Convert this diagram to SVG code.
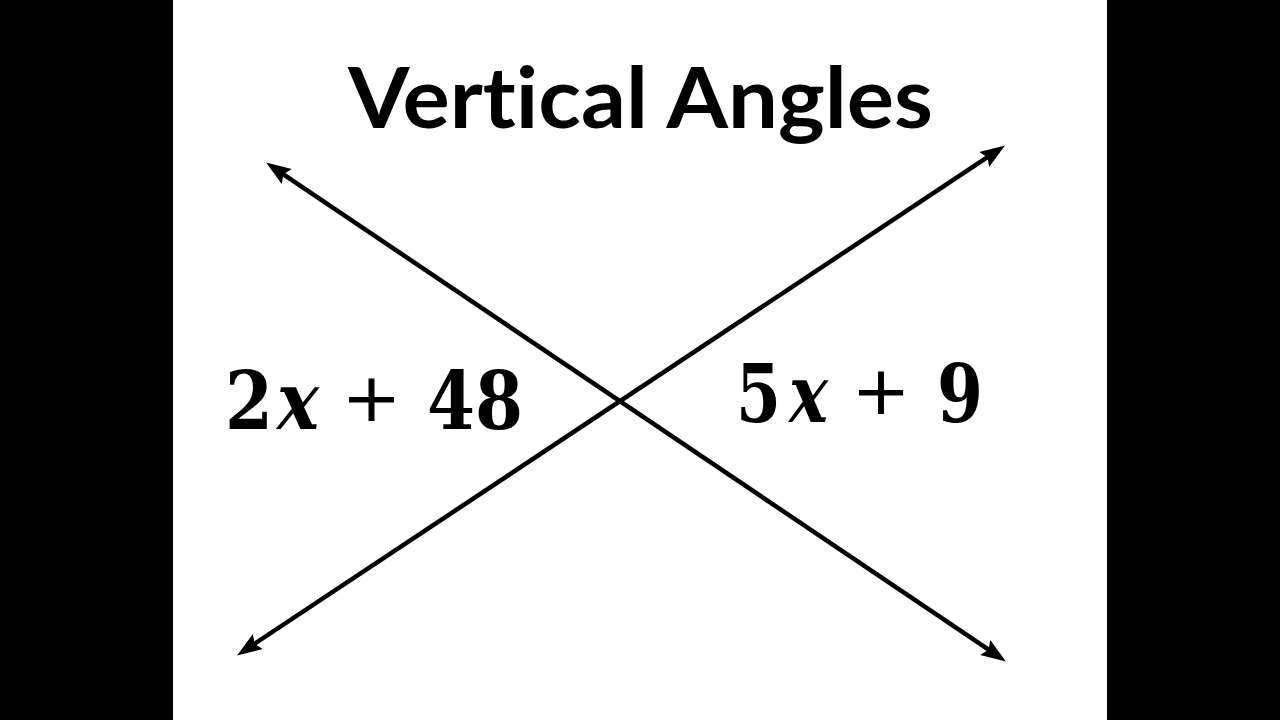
<svg xmlns="http://www.w3.org/2000/svg" width="1280" height="720" viewBox="0 0 1280 720">
<style>
.title{font-family:"Lato","Open Sans","Liberation Sans",sans-serif;font-weight:bold;font-size:84px;fill:#000;font-variant-ligatures:none;font-feature-settings:"liga" 0}
.num{font-family:"DejaVu Serif","Liberation Serif",serif;font-weight:bold;font-size:80px;fill:#000}
.var{font-family:"DejaVu Serif","Liberation Serif",serif;font-weight:bold;font-style:italic;font-size:80px;fill:#000}
.op{font-family:"Liberation Serif","DejaVu Serif",serif;font-weight:normal;font-size:88px;fill:#000;stroke:#000;stroke-width:1.2}
.ln{stroke:#000;stroke-width:4.5;fill:none;marker-start:url(#ah);marker-end:url(#ah)}
</style>
<defs>
<marker id="ah" markerUnits="userSpaceOnUse" markerWidth="26" markerHeight="20" viewBox="0 0 26 20" refX="13" refY="10" orient="auto-start-reverse">
<path d="M0,1 L25,10 L0,19 L4,10 Z" fill="#000"/>
</marker>
</defs>
<rect x="0" y="0" width="1280" height="720" fill="#000"/>
<rect x="173" y="0" width="934" height="720" fill="#fff"/>
<g id="title"><text class="title" x="348" y="128" textLength="585" lengthAdjust="spacingAndGlyphs">Vertical Angles</text></g>
<g id="connectors">
<line class="ln" x1="276" y1="169.3" x2="996" y2="654.7"/>
<line class="ln" x1="247" y1="648.8" x2="995" y2="152.2"/>
</g>
<g id="label-left">
<text class="num" x="225" y="429" textLength="48" lengthAdjust="spacingAndGlyphs">2</text>
<text class="var" x="277" y="429" textLength="42" lengthAdjust="spacingAndGlyphs">x</text>
<text class="op" x="345" y="429" textLength="53" lengthAdjust="spacingAndGlyphs">+</text>
<text class="num" x="427" y="429" textLength="96" lengthAdjust="spacingAndGlyphs">48</text>
</g>
<g id="label-right">
<text class="num" x="736" y="422" textLength="45" lengthAdjust="spacingAndGlyphs">5</text>
<text class="var" x="789" y="422" textLength="39" lengthAdjust="spacingAndGlyphs">x</text>
<text class="op" x="855" y="422" textLength="52" lengthAdjust="spacingAndGlyphs">+</text>
<text class="num" x="937" y="422" textLength="46" lengthAdjust="spacingAndGlyphs">9</text>
</g>
</svg>
